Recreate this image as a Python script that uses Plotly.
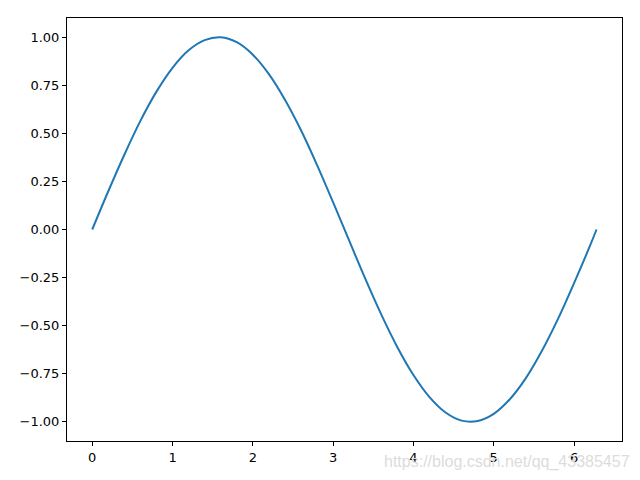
import plotly.graph_objects as go

# valores
x_vals = [0, 0.2, 0.4, 0.6, 0.8, 1.0, 1.2, 1.4, 1.6, 1.8, 2.0, 2.2, 2.4, 2.6, 2.8, 3.0,
          3.2, 3.4, 3.6, 3.8, 4.0, 4.2, 4.4, 4.6, 4.8, 5.0, 5.2, 5.4, 5.6, 5.8, 6.0, 6.2, 6.28]
y_vals = [0.0, 0.199, 0.389, 0.565, 0.717, 0.841, 0.932, 0.985, 1.0, 0.974, 0.909, 0.808,
          0.675, 0.516, 0.335, 0.141, -0.058, -0.256, -0.443, -0.612, -0.757, -0.872,
          -0.952, -0.994, -0.996, -0.959, -0.883, -0.773, -0.631, -0.465, -0.279, -0.083, 0.0]

x_ticks = [0, 1, 2, 3, 4, 5, 6]
y_ticks = [-1.0, -0.75, -0.5, -0.25, 0.0, 0.25, 0.5, 0.75, 1.0]
y_labels = ['−1.00', '−0.75', '−0.50', '−0.25', '0.00', '0.25', '0.50', '0.75', '1.00']

fig = go.Figure()
fig.add_scatter(x=x_vals, y=y_vals, mode='lines',
                line=dict(color='#1f77b4', width=2, shape='spline'))

eixo = dict(showline=True, mirror=True, linecolor='black', linewidth=1,
            ticks='outside', ticklen=4, tickcolor='black', showgrid=False,
            zeroline=False)

fig.update_layout(
    width=640, height=480,
    margin=dict(l=67, r=18, t=18, b=39),
    plot_bgcolor='white', paper_bgcolor='white',
    showlegend=False,
    font=dict(family='DejaVu Sans', size=13, color='black'),
    xaxis=dict(range=[-0.314, 6.597], tickvals=x_ticks, **eixo),
    yaxis=dict(range=[-1.1, 1.1], tickvals=y_ticks, ticktext=y_labels, **eixo),
    annotations=[dict(
        text='https://blog.csdn.net/qq_43385457', showarrow=False,
        xref='paper', yref='paper', x=1.018, y=-0.05,
        xanchor='right', yanchor='middle',
        font=dict(family='Liberation Sans', size=16, color='#dcdcdc'))]
)

# tira a margem padrão da página
fig.write_html('out.html', config={'displayModeBar': False},
               post_script="document.body.style.margin='0';")
